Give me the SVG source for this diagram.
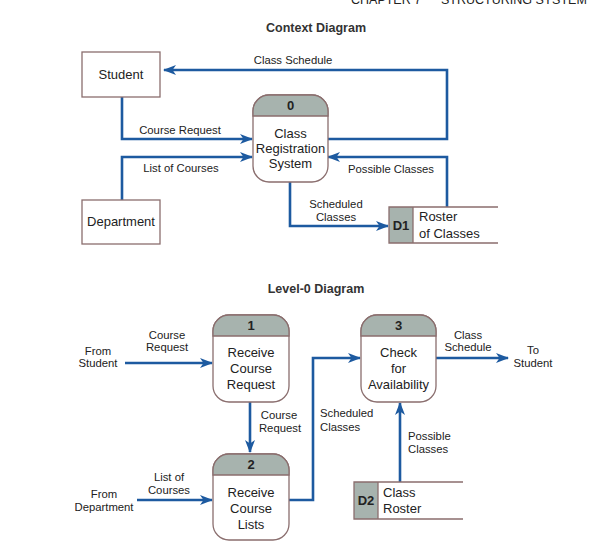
<svg xmlns="http://www.w3.org/2000/svg" width="592" height="550" viewBox="0 0 592 550">
<defs>
<style>
.t{font-family:"Liberation Sans",Arial,sans-serif;fill:#222;}
.lbl{font-size:11.3px;text-anchor:middle;}
.lbl-l{font-size:11.3px;}
.pt{font-size:13px;text-anchor:middle;}
.ttl{font-size:12.5px;font-weight:bold;text-anchor:middle;fill:#333;}
.box{fill:#fff;stroke:#8a6e6e;stroke-width:1.3;}
.proc{fill:#fff;stroke:#8a6e6e;stroke-width:1.3;}
.hdr{fill:#a7b3ae;stroke:#8a6e6e;stroke-width:1.3;}
.flow{fill:none;stroke:#1d5aa0;stroke-width:2.6;stroke-linejoin:miter;}
.st{fill:none;stroke:#8a6e6e;stroke-width:1.3;}
</style>
<marker id="ah" viewBox="0 0 13 10" refX="12" refY="5" markerWidth="13" markerHeight="10" markerUnits="userSpaceOnUse" orient="auto">
<path d="M0,0 L13,5 L0,10 L3.5,5 Z" fill="#1d5aa0"/>
</marker>
</defs>
<rect width="592" height="550" fill="#fff"/>
<text class="t" x="351" y="4" font-size="12.5" fill="#444">CHAPTER 7</text>
<text class="t" x="441" y="4" font-size="12.5" fill="#444">STRUCTURING SYSTEM</text>
<text class="t ttl" x="316" y="32">Context Diagram</text>
<text class="t ttl" x="316" y="293">Level-0 Diagram</text>

<g id="connectors">
<path class="flow" d="M327,139 H447 V70 H164" marker-end="url(#ah)"/>
<path class="flow" d="M122,97 V139 H252" marker-end="url(#ah)"/>
<path class="flow" d="M122,200 V157 H252" marker-end="url(#ah)"/>
<path class="flow" d="M447,207 V157 H328" marker-end="url(#ah)"/>
<path class="flow" d="M290,182 V226 H388" marker-end="url(#ah)"/>
<path class="flow" d="M125,363 H212" marker-end="url(#ah)"/>
<path class="flow" d="M250,402 V452" marker-end="url(#ah)"/>
<path class="flow" d="M137,500 H212" marker-end="url(#ah)"/>
<path class="flow" d="M289,500 H313 V358 H360" marker-end="url(#ah)"/>
<path class="flow" d="M436,358 H508" marker-end="url(#ah)"/>
<path class="flow" d="M400,482 V403" marker-end="url(#ah)"/>
<text class="t lbl" x="293" y="64">Class Schedule</text>
<text class="t lbl" x="180" y="134">Course Request</text>
<text class="t lbl" x="181" y="172">List of Courses</text>
<text class="t lbl" x="391" y="173">Possible Classes</text>
<text class="t lbl" x="336" y="208">Scheduled</text>
<text class="t lbl" x="336" y="221">Classes</text>
<text class="t lbl" x="98" y="355">From</text>
<text class="t lbl" x="98" y="367">Student</text>
<text class="t lbl" x="167" y="339">Course</text>
<text class="t lbl" x="167" y="351">Request</text>
<text class="t lbl" x="279" y="419">Course</text>
<text class="t lbl" x="280" y="432">Request</text>
<text class="t lbl" x="104" y="498">From</text>
<text class="t lbl" x="104" y="511">Department</text>
<text class="t lbl" x="169" y="481">List of</text>
<text class="t lbl" x="169" y="494">Courses</text>
<text class="t lbl-l" x="320" y="417">Scheduled</text>
<text class="t lbl-l" x="320" y="431">Classes</text>
<text class="t lbl" x="468" y="339">Class</text>
<text class="t lbl" x="468" y="351">Schedule</text>
<text class="t lbl" x="533" y="354">To</text>
<text class="t lbl" x="533" y="367">Student</text>
<text class="t lbl-l" x="408" y="440">Possible</text>
<text class="t lbl-l" x="408" y="453">Classes</text>
</g>

<g id="student">
<rect class="box" x="82" y="52" width="78" height="45"/>
<text class="t pt" x="121" y="79">Student</text>
</g>
<g id="department">
<rect class="box" x="82" y="200" width="78" height="44"/>
<text class="t pt" x="121" y="226">Department</text>
</g>
<g id="p0">
<rect class="proc" x="253" y="95" width="75" height="87" rx="16"/>
<path class="hdr" d="M253,116 V111 A16,16 0 0 1 269,95 H312 A16,16 0 0 1 328,111 V116 Z"/>
<text class="t pt" x="290.5" y="110" font-weight="bold" font-size="11.5">0</text>
<text class="t pt" x="290.5" y="138">Class</text>
<text class="t pt" x="290.5" y="153">Registration</text>
<text class="t pt" x="290.5" y="168">System</text>
</g>
<g id="d1">
<rect x="389" y="207" width="24" height="36" fill="#a7b3ae"/>
<path class="st" d="M498,207 H389 V243 H498 M413,207 V243"/>
<text class="t pt" x="401" y="230" font-weight="bold" font-size="12">D1</text>
<text class="t" x="419" y="221" font-size="13">Roster</text>
<text class="t" x="419" y="238" font-size="13">of Classes</text>
</g>
<g id="p1">
<rect class="proc" x="213" y="315" width="76" height="87" rx="16"/>
<path class="hdr" d="M213,336 V331 A16,16 0 0 1 229,315 H273 A16,16 0 0 1 289,331 V336 Z"/>
<text class="t pt" x="251" y="330" font-weight="bold" font-size="11.5">1</text>
<text class="t pt" x="251" y="357">Receive</text>
<text class="t pt" x="251" y="373">Course</text>
<text class="t pt" x="251" y="389">Request</text>
</g>
<g id="p2">
<rect class="proc" x="213" y="454" width="76" height="86" rx="16"/>
<path class="hdr" d="M213,475 V470 A16,16 0 0 1 229,454 H273 A16,16 0 0 1 289,470 V475 Z"/>
<text class="t pt" x="251" y="469" font-weight="bold" font-size="11.5">2</text>
<text class="t pt" x="251" y="497">Receive</text>
<text class="t pt" x="251" y="513">Course</text>
<text class="t pt" x="251" y="529">Lists</text>
</g>
<g id="p3">
<rect class="proc" x="361" y="315" width="75" height="87" rx="16"/>
<path class="hdr" d="M361,336 V331 A16,16 0 0 1 377,315 H420 A16,16 0 0 1 436,331 V336 Z"/>
<text class="t pt" x="398.5" y="330" font-weight="bold" font-size="11.5">3</text>
<text class="t pt" x="398.5" y="357">Check</text>
<text class="t pt" x="398.5" y="373">for</text>
<text class="t pt" x="398.5" y="389">Availability</text>
</g>
<g id="d2">
<rect x="354" y="482" width="24" height="37" fill="#a7b3ae"/>
<path class="st" d="M463,482 H354 V519 H463 M378,482 V519"/>
<text class="t pt" x="366" y="505" font-weight="bold" font-size="12">D2</text>
<text class="t" x="383" y="497" font-size="13">Class</text>
<text class="t" x="383" y="513" font-size="13">Roster</text>
</g>
</svg>
